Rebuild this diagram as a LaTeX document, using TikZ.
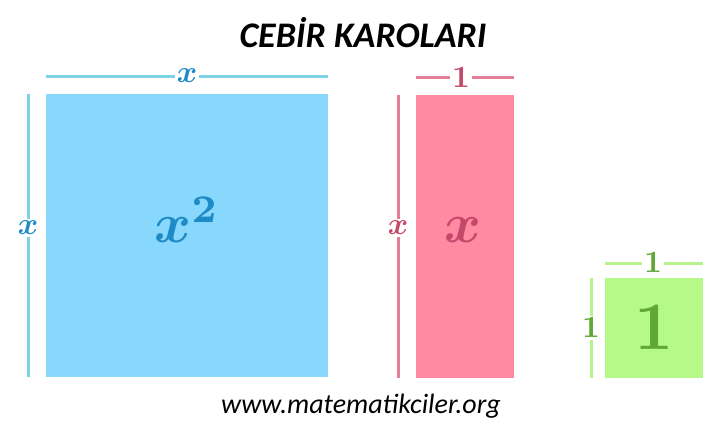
\documentclass[tikz,border=0pt]{standalone}
\usepackage{fontspec}
\usepackage{amsmath,bm}
\newfontfamily\carl{Carlito}
\definecolor{bfill}{HTML}{87D8FC}
\definecolor{bline}{HTML}{7DD3E4}
\definecolor{btxt}{HTML}{1F8BC6}
\definecolor{pfill}{HTML}{FF8AA1}
\definecolor{pline}{HTML}{E27E95}
\definecolor{ptxt}{HTML}{C4486A}
\definecolor{gfill}{HTML}{B5FA88}
\definecolor{gline}{HTML}{B8F28C}
\definecolor{gtxt}{HTML}{5EA833}
\newcommand{\smallx}{\scalebox{3.1}{$\bm{x}$}}
\newcommand{\smallone}{\scalebox{3.1}{$\bm{1}$}}
\begin{document}
\begin{tikzpicture}[x=1pt,y=-1pt,
  dim/.style={line width=3pt},
  lbl/.style={fill=white,inner sep=2pt},
  big/.style={inner sep=0pt}]
\useasboundingbox (0,0) rectangle (720,429);
% title
\node[font=\carl\bfseries\itshape\fontsize{36}{40}\selectfont] (title) at (363,33) {CEBİR KAROLARI};
\node[font=\carl\itshape\fontsize{28}{30}\selectfont] (web) at (361,406) {www.matematikciler.org};
% blue
\fill[bfill] (46,94) rectangle (328,377);
\node[big,text=btxt] (bx) at (187,220) {\scalebox{5.6}{$\bm{x^2}$}};
\draw[dim,bline] (46,76) -- (328,76);
\node[lbl,text=btxt] (btop) at (187,76) {\smallx};
\draw[dim,bline] (28,94) -- (28,377);
\node[lbl,text=btxt,inner xsep=1pt] (bleft) at (28,228) {\smallx};
% pink
\fill[pfill] (416,95) rectangle (514,378);
\node[big,text=ptxt] (px) at (463,230) {\scalebox{5.6}{$\bm{x}$}};
\draw[dim,pline] (416,77) -- (514,77);
\node[lbl,text=ptxt] (ptop) at (461,78) {\smallone};
\draw[dim,pline] (398,95) -- (398,378);
\node[lbl,text=ptxt,inner xsep=1pt] (pleft) at (398,228) {\smallx};
% green
\fill[gfill] (605,278) rectangle (703,378);
\node[big,text=gtxt] (gx) at (654,328) {\scalebox{6.8}{$\bm{1}$}};
\draw[dim,gline] (605,263) -- (703,263);
\node[lbl,text=gtxt] (gtop) at (653,263) {\smallone};
\draw[dim,gline] (591,278) -- (591,378);
\node[lbl,text=gtxt,inner xsep=1pt] (gleft) at (591,328) {\smallone};
\end{tikzpicture}
\end{document}
